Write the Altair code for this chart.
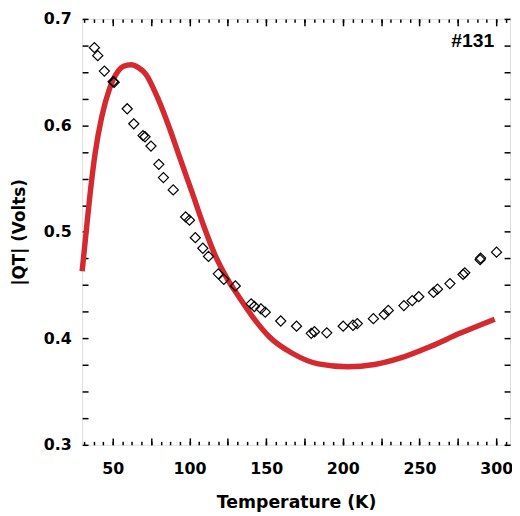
import altair as alt
import pandas as pd

# ---- measured data (diamonds) ----
temp_pts = [38.0, 40.2, 44.5, 50.2, 50.9, 59.4, 63.7, 69.7, 71.0, 74.9, 80.0, 83.0, 89.4,
            97.5, 100.0, 103.8, 108.7, 112.4, 118.8, 122.4, 129.9, 140.2, 142.3, 146.6, 149.4,
            159.5, 169.8, 179.4, 181.5, 189.5, 200.2, 206.6, 209.4, 219.9, 227.0, 229.6, 239.8,
            245.2, 249.5, 259.1, 261.7, 269.8, 278.4, 279.5, 289.5, 289.8, 300.2]
qt_pts = [0.673, 0.6655, 0.651, 0.641, 0.6405, 0.6156, 0.6015, 0.5904, 0.5893, 0.5806, 0.5634, 0.551, 0.5394,
          0.514, 0.511, 0.4945, 0.4846, 0.4769, 0.4606, 0.4554, 0.4492, 0.4324, 0.4299, 0.4277, 0.4246,
          0.4163, 0.4114, 0.4047, 0.4062, 0.4052, 0.4114, 0.4123, 0.4139, 0.4185, 0.4225, 0.4262, 0.4308,
          0.4354, 0.4391, 0.4431, 0.4462, 0.4514, 0.46, 0.4615, 0.4739, 0.4754, 0.4809]

# ---- model curve (red) ----
temp_fit = [30.0, 32.0, 35.3, 38.5, 42.8, 48.0, 53.5, 57.0, 62.0, 66.5, 71.6, 79.2, 86.7, 94.1,
            101.7, 109.2, 116.6, 124.2, 132.7, 141.3, 152.0, 167.0, 184.0, 203.0, 220.6, 237.7,
            257.0, 276.3, 299.0]
qt_fit = [0.463, 0.491, 0.537, 0.574, 0.608, 0.635, 0.651, 0.6555, 0.657, 0.6545, 0.648, 0.626, 0.5985, 0.568,
          0.537, 0.506, 0.4785, 0.457, 0.438, 0.42, 0.4015, 0.386, 0.376, 0.3733, 0.3754, 0.3816,
          0.3923, 0.4047, 0.418]

# ---- axes ----
x_label_values = [50, 100, 150, 200, 250, 300]
y_label_values = [0.3, 0.4, 0.5, 0.6, 0.7]
x_major_ticks = [50, 75, 100, 125, 150, 175, 200, 225, 250, 275, 300]
x_minor_ticks = [round(31.25 + 6.25 * i, 2) for i in range(45)]
y_ticks = [round(0.3 + 0.025 * i, 3) for i in range(17)]

W = 433
H = 431
FONT = "DejaVu Sans"

pts = pd.DataFrame({"T": temp_pts, "V": qt_pts})
fit = pd.DataFrame({"T": temp_fit, "V": qt_fit})

xs = alt.Scale(domain=[30, 309], nice=False, zero=False)
ys = alt.Scale(domain=[0.3, 0.7], nice=False, zero=False)


def tick_axis(orient, values, size, off):
    return alt.Axis(orient=orient, offset=-off, values=values, tickSize=size, tickWidth=1.5,
                    tickColor="black", labels=False, domain=False, grid=False, title="")


line = alt.Chart(fit).mark_line(color="#d42a2f", strokeWidth=5.5, interpolate="monotone").encode(
    x=alt.X("T:Q", scale=xs, axis=tick_axis("top", x_major_ticks, 7, H)),
    y=alt.Y("V:Q", scale=ys, axis=tick_axis("right", y_ticks, 6, W)),
)

hid1 = alt.Chart(pts).mark_point(opacity=0).encode(
    x=alt.X("T:Q", scale=xs, axis=tick_axis("bottom", x_major_ticks, 7, H)),
    y=alt.Y("V:Q", scale=ys, axis=tick_axis("left", y_ticks, 6, W)),
)
hid2 = alt.Chart(pts).mark_point(opacity=0).encode(
    x=alt.X("T:Q", scale=xs, axis=tick_axis("top", x_minor_ticks, 3.5, H)),
    y=alt.Y("V:Q", scale=ys, axis=None),
)
hid3 = alt.Chart(pts).mark_point(opacity=0).encode(
    x=alt.X("T:Q", scale=xs, axis=tick_axis("bottom", x_minor_ticks, 3.5, H)),
    y=alt.Y("V:Q", scale=ys, axis=None),
)

points = alt.Chart(pts).mark_point(shape="diamond", filled=False, color="black", strokeWidth=1.2,
                                   size=105, opacity=1).encode(
    x=alt.X("T:Q", scale=xs, axis=alt.Axis(
        orient="bottom", values=x_label_values, ticks=False, tickSize=0, domain=False, grid=False,
        labelFont=FONT, labelFontSize=16, labelFontWeight="bold", labelColor="black", labelPadding=16,
        title="Temperature (K)", titleFont=FONT, titleFontSize=17.5, titleFontWeight="bold",
        titleColor="black", titleBaseline="alphabetic", titleY=63.5)),
    y=alt.Y("V:Q", scale=ys, axis=alt.Axis(
        orient="left", values=y_label_values, format=".1f", ticks=False, tickSize=0, domain=False,
        grid=False, labelFont=FONT, labelFontSize=16, labelFontWeight="bold", labelColor="black",
        labelPadding=11, title="|QT| (Volts)", titleFont=FONT, titleFontSize=17,
        titleFontWeight="bold", titleColor="black", titleBaseline="alphabetic", titleX=-58.5,
        titleAngle=270)),
)

chart = alt.layer(line, hid1, hid2, hid3, points).resolve_axis(
    x="independent", y="independent"
).properties(
    width=W,
    height=H,
    autosize=alt.AutoSizeParams(type="none"),
    padding={"left": 75, "top": 8, "right": 2, "bottom": 70},
    title=alt.TitleParams("#131", anchor="end", frame="group", font="Liberation Sans", fontSize=19.5,
                          fontWeight="bold", color="black", offset=0, dx=-16, dy=56,
                          baseline="alphabetic"),
).configure_view(stroke="black", strokeWidth=2).configure(background="white")

chart.save("out.html", embed_options={"renderer": "svg", "actions": False})
